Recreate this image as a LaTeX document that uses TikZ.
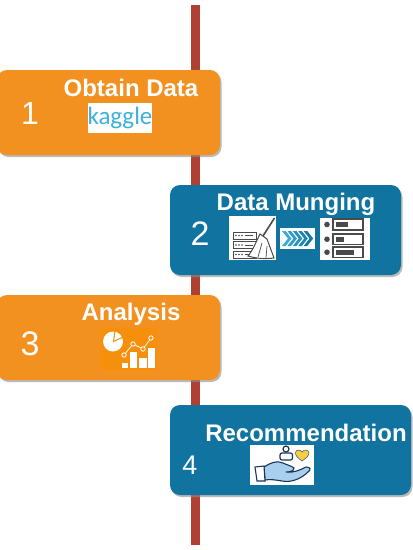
\documentclass[tikz,border=0pt]{standalone}
\usepackage{fontspec}
\setmainfont{Liberation Sans}
\newfontfamily\kagglefont{Carlito}
\usepackage{xcolor}
\usetikzlibrary{arrows.meta,shadows}
\definecolor{stepor}{HTML}{F39120}
\definecolor{stepbl}{HTML}{11739F}
\definecolor{spinered}{HTML}{AE4132}
\definecolor{kaggleblue}{HTML}{3FB0DC}
\definecolor{icondark}{HTML}{4A4A4A}
\definecolor{iconor}{HTML}{F58F0C}
\definecolor{handblue}{HTML}{A9CFEF}
\definecolor{handline}{HTML}{1C3557}
\definecolor{heartyel}{HTML}{F4CE45}
\tikzset{
  box/.style={rectangle, rounded corners=10pt, inner sep=0pt, drop shadow={shadow xshift=1.5pt, shadow yshift=-2pt, fill=black!45, opacity=.6}},
  orbox/.style={box, fill=stepor},
  blbox/.style={box, fill=stepbl},
  tcap/.style={font=\fontsize{24}{26}\selectfont\bfseries, text=white, inner sep=0pt},
  num/.style={text=white, inner sep=0pt},
  pic/.style={fill=white, inner sep=0pt},
  srv/.style={draw=icondark, line width=1pt}
}
\begin{document}
\begin{tikzpicture}[x=1pt,y=-1pt]
\useasboundingbox (0,0) rectangle (413,550);
\coordinate (top) at (195.5,5);
\coordinate (bot) at (195.5,545);
\draw[spinered, line width=9pt] (top) -- (bot);
% the four steps
\node[orbox, minimum width=223pt, minimum height=85pt] (obtain) at (108.5,112.5) {};
\node[blbox, minimum width=231pt, minimum height=90pt] (munge) at (285.5,230) {};
\node[orbox, minimum width=223pt, minimum height=85pt] (analysis) at (108.5,337.5) {};
\node[blbox, minimum width=241pt, minimum height=90pt] (recom) at (290.5,450) {};
\node[tcap] (t1) at (131,88) {Obtain Data};
\node[tcap] (t2) at (296,204) {Data Munging};
\node[tcap] (t3) at (131,314) {Analysis};
\node[tcap] (t4) at (306,433) {Recommendation};
\node[num, font=\fontsize{32}{32}\selectfont] (n1) at (30,113) {1};
\node[num, font=\fontsize{34}{34}\selectfont] (n2) at (200,234) {2};
\node[num, font=\fontsize{34}{34}\selectfont] (n3) at (30,344) {3};
\node[num, font=\fontsize{27}{27}\selectfont] (n4) at (190,465) {4};
% kaggle
\node[pic, minimum width=64pt, minimum height=30pt, text=kaggleblue, font=\kagglefont\fontsize{25}{25}\selectfont] (kag) at (120,118) {kaggle};
% raw data icon
\node[pic, minimum width=47pt, minimum height=44pt] (raw) at (252.5,238) {};
\foreach \yy in {232,241.5,251} {
  \draw[srv] (233,\yy) rectangle (256,\yy+7);
  \foreach \xx in {236,239,242}
    \fill[icondark] (\xx,\yy+3.5) circle (.8pt);
  \draw[icondark] (245,\yy+3.5) -- (253,\yy+3.5);
}
\draw[icondark, line width=1.6pt] (274.5,218) -- (263,236);
\filldraw[draw=icondark, fill=white, line width=1pt] (260,234) -- (267,239) -- (274,258) .. controls (266,259) and (258,259) .. (248,256) .. controls (253,250) and (256,242) .. cycle;
\draw[icondark, line width=.7pt] (262,243) -- (258,257) (267,246) -- (266,258);
% chevrons
\node[pic, minimum width=35pt, minimum height=21pt] (chev) at (297.5,238.5) {};
\foreach \i/\cc in {0/10,1/30,2/50,3/70,4/90}
  \fill[stepbl!\cc!kaggleblue] (282+\i*5.4,231) -- (285.6+\i*5.4,231) -- (291.6+\i*5.4,238.5) -- (285.6+\i*5.4,246) -- (282+\i*5.4,246) -- (288+\i*5.4,238.5) -- cycle;
% clean data icon
\node[pic, minimum width=50pt, minimum height=42pt] (clean) at (345,239) {};
\foreach \yy/\hh/\ww in {219/11/348,234/10.5/344,247/10.5/354} {
  \fill[icondark] (327,\yy+\hh/2) circle (2.8pt);
  \draw[icondark, line width=1.2pt] (333,\yy) rectangle (363,\yy+\hh);
  \fill[icondark] (336,\yy+\hh/2-2.5) rectangle (\ww,\yy+\hh/2+2.5);
}
% analysis icon
\node[fill=iconor, inner sep=0pt, minimum width=57pt, minimum height=42pt] (ana) at (128.5,349) {};
\fill[white] (113,341.5) circle (10pt);
\draw[iconor, line width=1pt] (123.5,337) -- (113.5,341.5) -- (115,331);
\fill[white] (122,363) rectangle (128,368);
\fill[white] (130,352) rectangle (137,368);
\fill[white] (139,358) rectangle (147,368);
\fill[white] (148,348) rectangle (155,368);
\draw[white, line width=.7pt] (124,355) -- (133,344) -- (143,349) -- (151,338);
\foreach \xx/\yy in {124/355,133/344,143/349,151/338}
  \filldraw[draw=white, fill=iconor, line width=.8pt] (\xx,\yy) circle (2.2pt);
% hand icon
\node[pic, minimum width=64pt, minimum height=40pt] (hand) at (282,465) {};
\filldraw[draw=handline, fill=handblue, line width=1.1pt] (264,467) .. controls (270,463) and (277,460) .. (283,463) .. controls (287,465) and (292,466) .. (294,468) .. controls (294,471) and (290,472) .. (286,472) .. controls (294,473) and (300,470) .. (306,467) .. controls (311,467) and (311,470) .. (308,472) .. controls (302,478) and (292,483) .. (282,481) .. controls (276,480) and (270,479) .. (265,480) -- cycle;
\filldraw[draw=handline, fill=white, line width=1.1pt] (255,467) -- (264,466) -- (265,481) -- (257,481) -- cycle;
\draw[handline, line width=1.2pt] (286,449) circle (3pt);
\draw[handline, line width=1.2pt, rounded corners=2pt] (280,453) rectangle (292.5,460);
\filldraw[draw=handline, fill=heartyel, line width=.4pt] (302,461) .. controls (298,458) and (295.5,456) .. (295.5,453) .. controls (295.5,449.5) and (300,449) .. (302,452) .. controls (304,449) and (309,449.5) .. (309,453) .. controls (309,456) and (306,458) .. cycle;
\end{tikzpicture}
\end{document}
